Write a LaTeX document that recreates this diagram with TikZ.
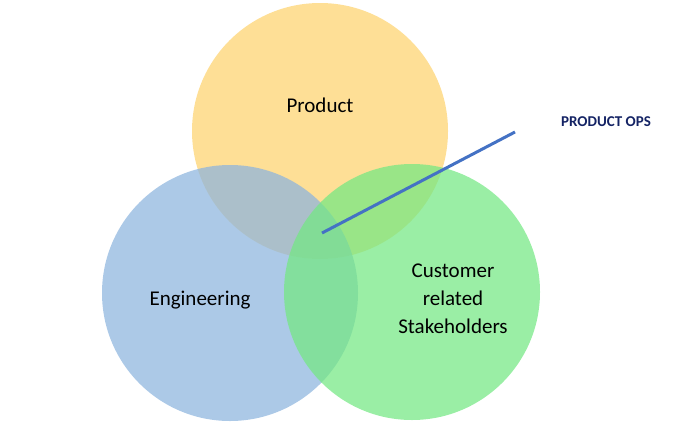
\documentclass[tikz,border=0pt]{standalone}
\usepackage{fontspec}
\setmainfont{Carlito}
\begin{document}
\begin{tikzpicture}[x=1pt,y=-1pt,
  venn/.style={circle,minimum size=256pt,inner sep=0pt,fill opacity=0.72},
  lbl/.style={font=\fontsize{21}{24}\selectfont,align=center}]
\useasboundingbox (0,0) rectangle (693,426);
\node[venn,fill={rgb,255:red,253;green,210;blue,110}] (prod) at (320,131) {};
\node[venn,fill={rgb,255:red,140;green,180;blue,222}] (eng) at (230,293) {};
\node[venn,fill={rgb,255:red,115;green,232;blue,130}] (cust) at (412,292) {};
\node[lbl] (tp) at (320,105) {Product};
\node[lbl] (te) at (200,300) {Engineering};
\node[lbl,font=\fontsize{21}{28}\selectfont] (tc) at (453,299) {Customer\\related\\Stakeholders};
\coordinate (a) at (322,233);
\coordinate (b) at (515,132);
\draw[line width=3pt,color={rgb,255:red,68;green,114;blue,196}] (a) -- (b);
\node[font=\bfseries\fontsize{15}{18}\selectfont,text={rgb,255:red,20;green,35;blue,100}] (ops) at (606,122) {PRODUCT OPS};
\end{tikzpicture}
\end{document}
